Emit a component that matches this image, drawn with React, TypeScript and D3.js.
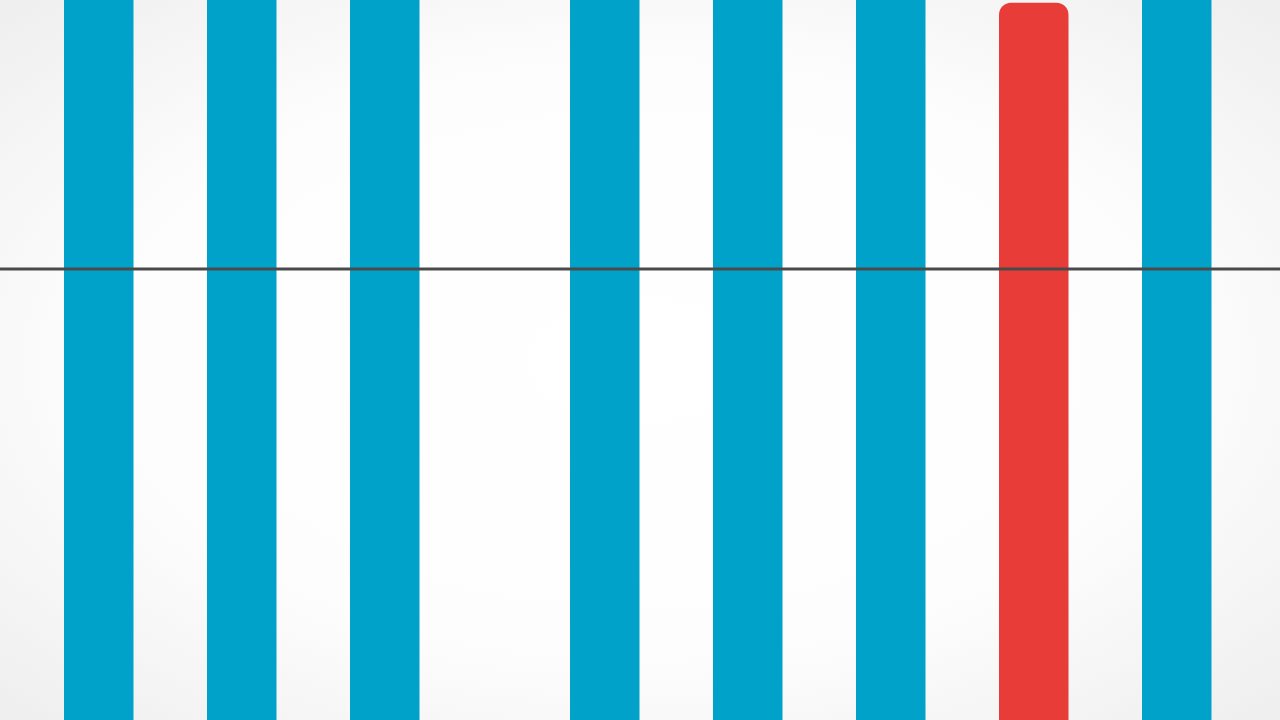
import React from "react";
import * as d3 from "d3";

const categories = ["A", "B", "C", "D", "E", "F", "G", "H"];
const groups = [0, 0, 0, 1, 1, 1, 1, 1];
const values = [112, 112, 112, 112, 112, 112, 99.7, 112];
const highlight = [false, false, false, false, false, false, true, false];
const referenceValue = 70.1;

const W = 1280;
const H = 720;

export default function App() {
  const step = 143;
  const barW = 69.5;
  const groupGap = 77;
  const x0 = 64;
  const xIndex = d3.scaleLinear().domain([0, 1]).range([x0, x0 + step]);
  const xPos = (i: number) => xIndex(i) + groups[i] * groupGap;
  const y = d3.scaleLinear().domain([0, 100]).range([900, 0]);
  const r = 12;

  const barPath = (i: number) => {
    const x = xPos(i);
    const top = y(values[i]);
    const bottom = y(0);
    const p = d3.path();
    p.moveTo(x, bottom);
    p.lineTo(x, top + r);
    p.arcTo(x, top, x + r, top, r);
    p.lineTo(x + barW - r, top);
    p.arcTo(x + barW, top, x + barW, top + r, r);
    p.lineTo(x + barW, bottom);
    p.closePath();
    return p.toString();
  };

  return (
    <div style={{ position: "fixed", left: 0, top: 0, width: W, height: H }}>
      <svg width={W} height={H} style={{ display: "block" }}>
        <defs>
          <radialGradient id="bg" cx="50%" cy="50%" r="75%">
            <stop offset="0%" stopColor="#ffffff" />
            <stop offset="55%" stopColor="#fdfdfd" />
            <stop offset="100%" stopColor="#ececec" />
          </radialGradient>
        </defs>
        <rect x={0} y={0} width={W} height={H} fill="url(#bg)" />
        {categories.map((c, i) => (
          <path
            key={c}
            d={barPath(i)}
            fill={highlight[i] ? "#E73C37" : "#00A2C9"}
          />
        ))}
        <line
          x1={0}
          x2={W}
          y1={y(referenceValue)}
          y2={y(referenceValue)}
          stroke="#4a4a4a"
          strokeWidth={3}
        />
      </svg>
    </div>
  );
}
